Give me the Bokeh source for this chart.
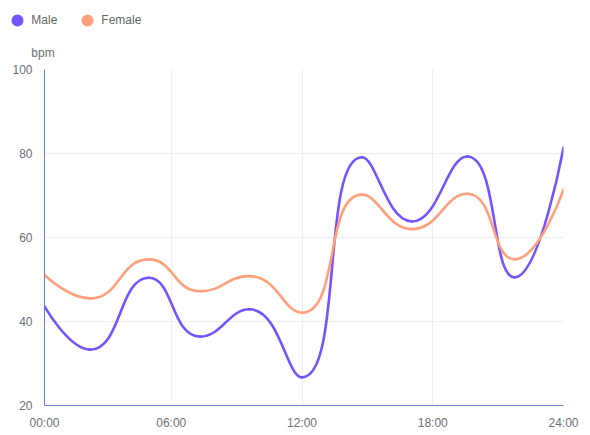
import numpy as np
from bokeh.plotting import figure
from bokeh.layouts import column
from bokeh.models import Range1d, FixedTicker, Legend, LegendItem, Label
from bokeh.embed import file_html
from bokeh.resources import INLINE

# ---- data ----
times = ["00:11", "02:17", "04:58", "07:20", "09:35", "12:00",
         "14:45", "17:03", "19:35", "21:45", "24:00"]
male = [43.6, 33.3, 50.4, 36.4, 42.9, 26.7, 79.1, 63.8, 79.3, 50.5, 81.4]
female = [51.1, 45.5, 54.8, 47.2, 50.8, 42.1, 70.2, 62.0, 70.4, 54.8, 71.4]
series_names = ["Male", "Female"]
x_tick_labels = ["00:00", "06:00", "12:00", "18:00", "24:00"]
x_tick_hours = [6, 12, 18, 24]
y_ticks = [20, 40, 60, 80, 100]
y_unit = "bpm"

colors = ["#7553ff", "#ffa07a"]
AXIS_COLOR = "#6a7fd4"
TEXT_COLOR = "#6e7079"
GRID_COLOR = "#eeeeee"
FONT = "Liberation Sans"

hours = [int(t.split(":")[0]) + int(t.split(":")[1]) / 60 for t in times]
x0, x1 = hours[0], hours[-1]
y0, y1 = y_ticks[0], y_ticks[-1]

W = 590
TOP_H = 61
FW, FH = 519, 336
ML, MR, MT, MB = 44, 27, 8, 30

# ---------------- header strip (legend + axis name) ----------------
head = figure(width=W, height=TOP_H, x_range=Range1d(0, 1), y_range=Range1d(0, 1),
              x_axis_type=None, y_axis_type=None, output_backend="svg",
              toolbar_location=None, min_border=0,
              min_border_left=0, min_border_right=0,
              min_border_top=0, min_border_bottom=0)
head.frame_align = False
head.outline_line_color = None
head.xgrid.visible = False
head.ygrid.visible = False

items = []
for name, col in zip(series_names, colors):
    r = head.scatter(x=[np.nan], y=[np.nan], marker="circle", size=8,
                     fill_color=col, line_color=col, line_width=4)
    items.append(LegendItem(label=name, renderers=[r]))
LEG_H = 22
legend = Legend(items=items, orientation="horizontal",
                location=(7.3, TOP_H - 8.3 - LEG_H),
                glyph_width=20, glyph_height=20, label_height=20,
                label_standoff=4, spacing=20, padding=1, margin=0,
                border_line_color=None, background_fill_alpha=0,
                label_text_font=FONT, label_text_font_size="12px",
                label_text_color="#666666")
head.add_layout(legend)

head.add_layout(Label(x=ML - 1.5, y=TOP_H - 52.7, x_units="screen", y_units="screen",
                      text=y_unit, text_align="center", text_baseline="middle",
                      text_font=FONT, text_font_size="12px", text_color=TEXT_COLOR))

# ---------------- main chart ----------------
p = figure(width=ML + FW + MR, height=MT + FH + MB,
           x_range=Range1d(x0, x1), y_range=Range1d(y0, y1),
           output_backend="svg", toolbar_location=None,
           min_border_left=ML, min_border_right=MR,
           min_border_top=MT, min_border_bottom=MB)
p.frame_align = False
p.outline_line_color = None
p.background_fill_color = "white"

ticks = [x0] + x_tick_hours
p.xaxis.ticker = FixedTicker(ticks=ticks)
p.xaxis.major_label_overrides = {t: lab for t, lab in zip(ticks, x_tick_labels)}
p.yaxis.ticker = FixedTicker(ticks=y_ticks)
for ax in (p.xaxis[0], p.yaxis[0]):
    ax.axis_line_color = AXIS_COLOR
    ax.axis_line_width = 1
    ax.major_tick_line_color = None
    ax.minor_tick_line_color = None
    ax.major_tick_out = 0
    ax.major_tick_in = 0
    ax.minor_tick_out = 0
    ax.major_label_text_color = TEXT_COLOR
    ax.major_label_text_font = FONT
    ax.major_label_text_font_size = "12px"
p.xaxis.major_label_standoff = 10
p.yaxis.major_label_standoff = 12

p.xgrid.ticker = FixedTicker(ticks=x_tick_hours)
p.ygrid.ticker = FixedTicker(ticks=y_ticks[1:])
p.xgrid.grid_line_color = GRID_COLOR
p.ygrid.grid_line_color = GRID_COLOR


# ECharts-like smooth bezier, control points computed in pixel space
def smooth_segments(xs, ys, smooth=0.5):
    kx = FW / (x1 - x0)
    ky = FH / (y1 - y0)
    px = [x * kx for x in xs]
    py = [y * ky for y in ys]
    n = len(px)
    segs = []
    cpx0, cpy0 = px[0], py[0]
    for i in range(1, n):
        x, y = px[i], py[i]
        prevX, prevY = px[i - 1], py[i - 1]
        if i == n - 1:
            cpx1, cpy1 = x, y
            ncx, ncy = x, y
        else:
            nextX, nextY = px[i + 1], py[i + 1]
            vx, vy = nextX - prevX, nextY - prevY
            lp = np.hypot(x - prevX, y - prevY)
            ln = np.hypot(nextX - x, nextY - y)
            r = ln / (ln + lp)
            ncx = x + vx * smooth * r
            ncy = y + vy * smooth * r
            ncx = min(ncx, max(nextX, x)); ncy = min(ncy, max(nextY, y))
            ncx = max(ncx, min(nextX, x)); ncy = max(ncy, min(nextY, y))
            vx, vy = ncx - x, ncy - y
            cpx1 = x - vx * lp / ln
            cpy1 = y - vy * lp / ln
            cpx1 = min(cpx1, max(prevX, x)); cpy1 = min(cpy1, max(prevY, y))
            cpx1 = max(cpx1, min(prevX, x)); cpy1 = max(cpy1, min(prevY, y))
            vx, vy = x - cpx1, y - cpy1
            ncx = x + vx * ln / lp
            ncy = y + vy * ln / lp
        segs.append((prevX / kx, prevY / ky, x / kx, y / ky,
                     cpx0 / kx, cpy0 / ky, cpx1 / kx, cpy1 / ky))
        cpx0, cpy0 = ncx, ncy
    return [list(c) for c in zip(*segs)]


for vals, col in zip([male, female], colors):
    sx0, sy0, sx1, sy1, c0x, c0y, c1x, c1y = smooth_segments(hours, vals)
    p.bezier(x0=sx0, y0=sy0, x1=sx1, y1=sy1, cx0=c0x, cy0=c0y, cx1=c1x, cy1=c1y,
             line_color=col, line_width=2.6, line_cap="round")

layout = column(head, p, spacing=0)
open("out.html", "w").write(file_html(layout, INLINE))
